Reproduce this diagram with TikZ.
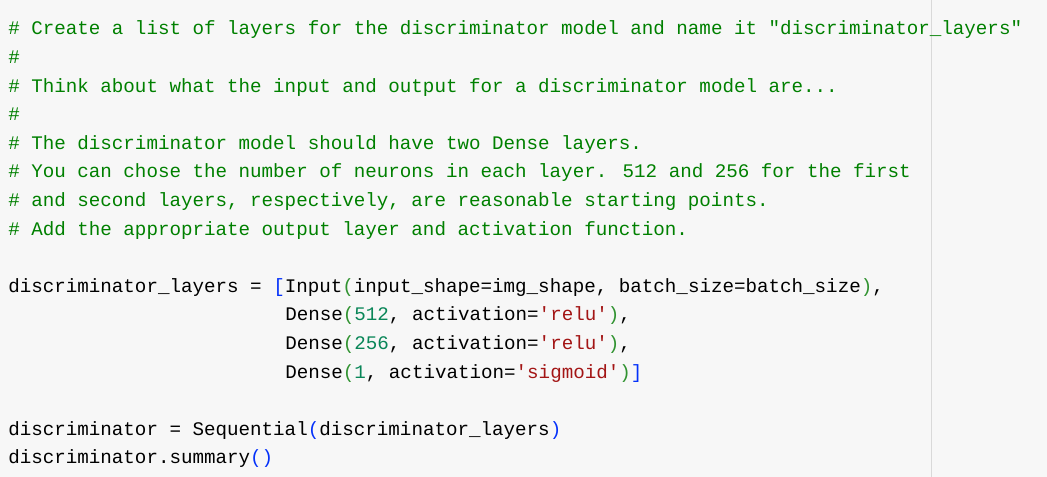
\documentclass[tikz,border=0pt]{standalone}
\usepackage{fontspec}
\newfontfamily\code{Liberation Mono}
\definecolor{bg}{HTML}{F7F7F7}
\definecolor{cm}{HTML}{008000}
\definecolor{st}{HTML}{A31515}
\definecolor{nm}{HTML}{098658}
\definecolor{b1}{HTML}{0431FA}
\definecolor{b2}{HTML}{319331}
\newcommand{\Q}{\char"0027}
\newcommand{\DQ}{\char"0022}
\tikzset{ln/.style={anchor=base west,inner sep=0pt,font=\code\fontsize{14.4}{16}\selectfont}}
\begin{document}
\begin{tikzpicture}[x=0.75pt,y=-0.75pt]
\fill[bg] (0,0) rectangle (1047,477);
\useasboundingbox (0,0) rectangle (1047,477);
\draw[draw=black!15,line width=0.75pt] (931,0) -- (931,477);
\node[ln,text=cm] (c1) at (8,35) {\# Create a list of layers for the discriminator model and name it \DQ discriminator\_layers\DQ};
\node[ln,text=cm] (c2) at (8,63.6) {\#};
\node[ln,text=cm] (c3) at (8,92.2) {\# Think about what the input and output for a discriminator model are...};
\node[ln,text=cm] (c4) at (8,120.8) {\#};
\node[ln,text=cm] (c5) at (8,149.4) {\# The discriminator model should have two Dense layers.};
\node[ln,text=cm] (c6) at (8,178) {\# You can chose the number of neurons in each layer. 512 and 256 for the first};
\node[ln,text=cm] (c7) at (8,206.6) {\# and second layers, respectively, are reasonable starting points.};
\node[ln,text=cm] (c8) at (8,235.2) {\# Add the appropriate output layer and activation function.};
\node[ln] (l1) at (8,292.4) {discriminator\_layers = \textcolor{b1}{[}Input\textcolor{b2}{(}input\_shape=img\_shape, batch\_size=batch\_size\textcolor{b2}{)},};
\node[ln] (l2) at (285,321) {Dense\textcolor{b2}{(}\textcolor{nm}{512}, activation=\textcolor{st}{\Q relu\Q}\textcolor{b2}{)},};
\node[ln] (l3) at (285,349.6) {Dense\textcolor{b2}{(}\textcolor{nm}{256}, activation=\textcolor{st}{\Q relu\Q}\textcolor{b2}{)},};
\node[ln] (l4) at (285,378.2) {Dense\textcolor{b2}{(}\textcolor{nm}{1}, activation=\textcolor{st}{\Q sigmoid\Q}\textcolor{b2}{)}\textcolor{b1}{]}};
\node[ln] (l5) at (8,435.4) {discriminator = Sequential\textcolor{b1}{(}discriminator\_layers\textcolor{b1}{)}};
\node[ln] (l6) at (8,464) {discriminator.summary\textcolor{b1}{()}};
\end{tikzpicture}
\end{document}
